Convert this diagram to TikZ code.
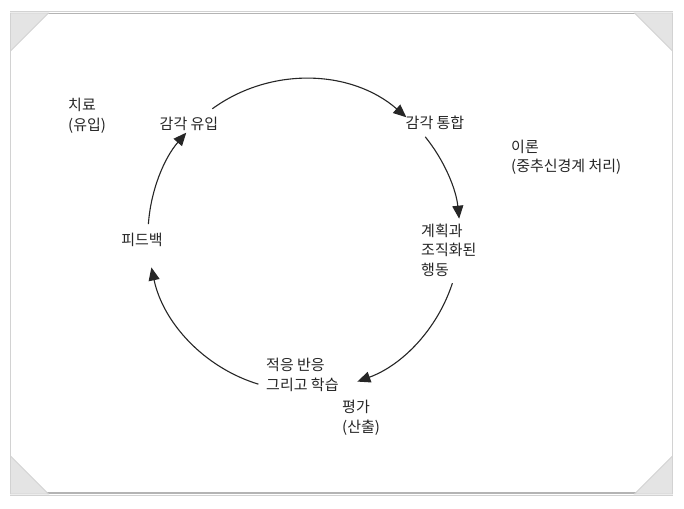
\documentclass[tikz,border=0pt]{standalone}
\usepackage{fontspec}
\setmainfont{Noto Sans CJK KR}
\usetikzlibrary{arrows.meta,calc}
\definecolor{txt}{HTML}{262626}
\definecolor{framegray}{HTML}{B4B4B4}
\definecolor{framelight}{HTML}{D2D2D2}
\definecolor{cornerfill}{HTML}{E4E4E4}
\tikzset{
  lbl/.style={inner sep=0pt, text=txt, font=\fontsize{15pt}{19.5pt}\selectfont, align=left},
  cyc/.style={line width=1.1pt, draw=black!85, -{Triangle[length=13pt,width=11pt]}},
  corner/.style={fill=cornerfill, draw=framelight, line width=0.8pt},
}
\begin{document}
\begin{tikzpicture}[x=1pt,y=1pt]
\useasboundingbox (0,0) rectangle (684,508);
\fill[white] (0,0) rectangle (684,508);
% frame
\draw[framelight, line width=0.9pt] (10.5,14) -- (10.5,495);
\draw[framelight, line width=0.9pt] (672.5,14) -- (672.5,495);
\draw[framegray, line width=1.6pt] (10,15) -- (673,15);
\draw[framegray, line width=1.6pt] (10,494.5) -- (673,494.5);
\draw[framelight, line width=0.8pt] (10,13) -- (673,13);
\draw[framelight, line width=0.8pt] (10,496.5) -- (673,496.5);
% corners
\filldraw[corner] (10.5,495) -- (48.5,495) -- (10.5,457) -- cycle;
\filldraw[corner] (672.5,495) -- (634.5,495) -- (672.5,457) -- cycle;
\filldraw[corner] (10.5,14) -- (48.5,14) -- (10.5,52) -- cycle;
\filldraw[corner] (672.5,14) -- (634.5,14) -- (672.5,52) -- cycle;

% circle geometry
\coordinate (c) at (304,273);
\coordinate (s1) at ($(c)+(126:156)$);
\coordinate (s2) at ($(c)+(39:156)$);
\coordinate (s3) at ($(c)+(-18:156)$);
\coordinate (s4) at ($(c)+(-107:156)$);
\coordinate (s5) at ($(c)+(176:156)$);

% labels
\node[lbl, anchor=west] (therapy) at (68,392) {치료\\(유입)};
\node[lbl] (input) at (189,384.5) {감각 유입};
\node[lbl] (integ) at (435,385) {감각 통합};
\node[lbl, anchor=west] (theory) at (511,350.5) {이론\\(중추신경계 처리)};
\node[lbl, anchor=west] (plan) at (421,258) {계획과\\조직화된\\행동};
\node[lbl] (feedback) at (142,268) {피드백};
\node[lbl, anchor=west] (adapt) at (266,133) {적응 반응\\그리고 학습};
\node[lbl, anchor=west] (eval) at (342,90) {평가\\(산출)};

% cycle arcs
\draw[cyc] (s1) arc[start angle=126, end angle=49, radius=156];
\draw[cyc] (s2) arc[start angle=39, end angle=6, radius=156];
\draw[cyc] (s3) arc[start angle=-18, end angle=-70, radius=156];
\draw[cyc] (s4) arc[start angle=-107, end angle=-168, radius=156];
\draw[cyc] (s5) arc[start angle=176, end angle=139, radius=156];
\end{tikzpicture}
\end{document}
